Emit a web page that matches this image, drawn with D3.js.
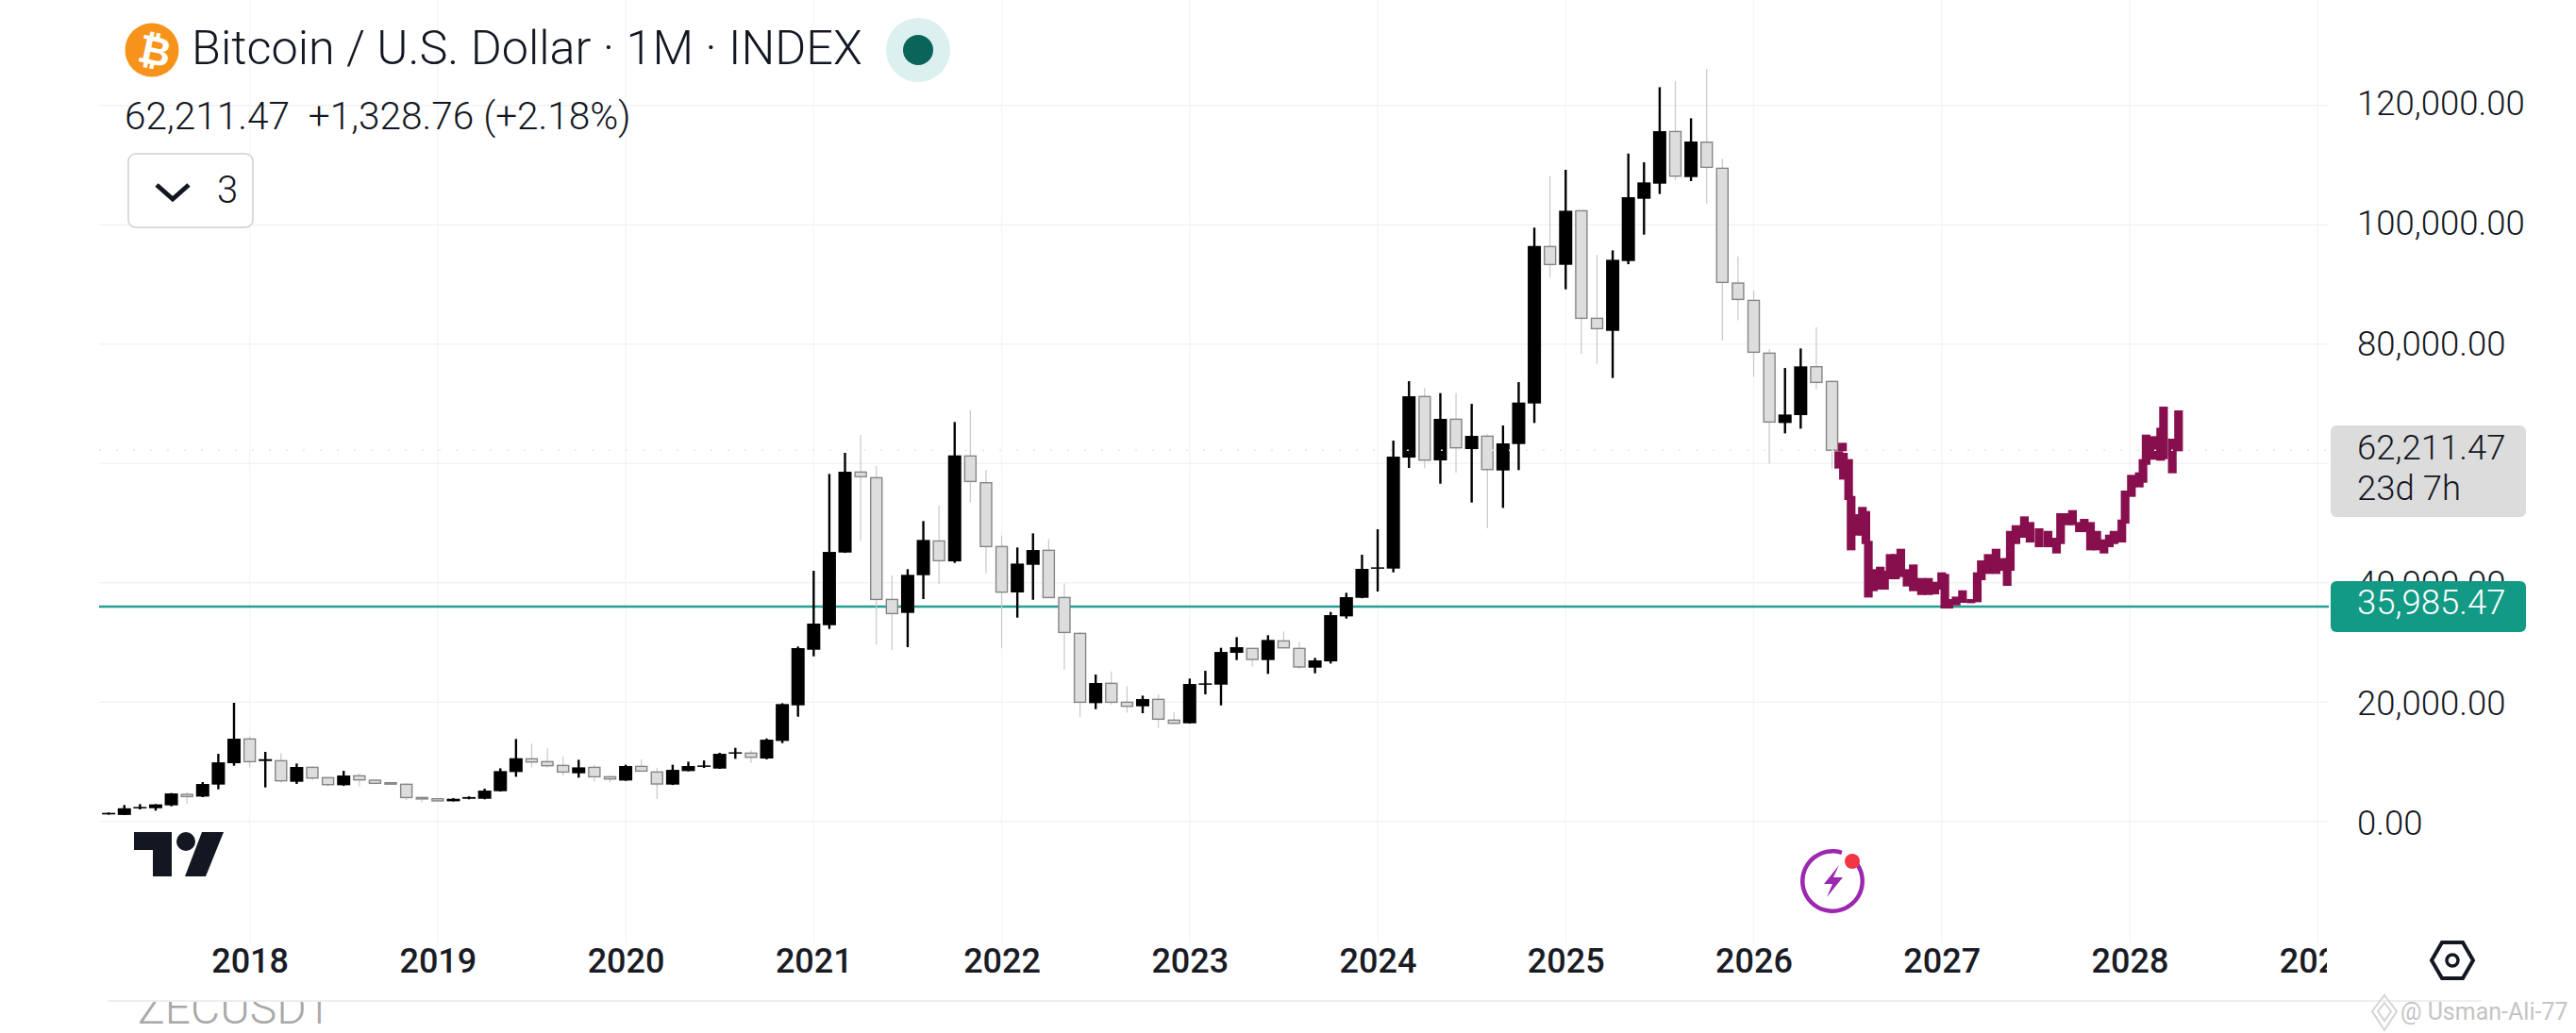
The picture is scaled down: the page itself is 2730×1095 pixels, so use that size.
<!DOCTYPE html>
<html>
<head>
<meta charset="utf-8">
<title>Bitcoin / U.S. Dollar</title>
<script src="https://d3js.org/d3.v7.min.js"></script>
<style>
    html, body { margin: 0; padding: 0; background: #fff; }
    svg { display: block; }
    text { font-family: Roboto, sans-serif; }
    .axis path, .axis line { display: none; }
</style>
</head>
<body>
<div id="chart"></div>
<script>
(function() {
    // months counted from Jan 2018, first candle is Apr 2017
    var firstMonth = -9;

    var candleOpen = [
        1170, 1080, 2210, 2210, 2690, 4530, 4160, 6170, 9750,
        13810, 10120, 10170, 6640, 9060, 7325, 6060, 7640, 6900, 6480, 6220, 4000,
        3790, 3370, 3790, 3790, 5060, 8270, 10490, 10010, 9380, 8060, 9060, 7480,
        6850, 9220, 8270, 6170, 8430, 9280, 8850, 11380, 11440, 10540, 13490, 19450,
        28770, 32880, 45060, 58550, 57600, 37200, 34940, 41260, 47000, 43580, 61240, 56760,
        46060, 38370, 43000, 45430, 37520, 31510, 19820, 23135, 19970, 19290, 20450, 16970,
        16440, 22980, 22920, 28250, 28990, 27040, 30250, 28990, 25770, 26820, 34360, 37470,
        42420, 42370, 60970, 71200, 60500, 67400, 62400, 64560, 58810, 63240, 70040, 96340,
        93280, 102340, 84320, 82210, 93910, 104350, 106880, 115620, 107980, 113830, 109460, 90220,
        87320, 78470, 66770, 68090, 76200, 73730
    ];
    var candleClose = [
        1430, 2200, 2420, 2850, 4690, 4160, 6270, 9900, 13860,
        10010, 10430, 6800, 9120, 7270, 6165, 7690, 6960, 6380, 6380, 4000, 3790,
        3440, 3790, 4080, 5160, 8430, 10590, 9960, 9330, 8270, 9060, 7480, 7110,
        9280, 8430, 6270, 8640, 9280, 9380, 11330, 11590, 10750, 13700, 19660, 29040,
        33150, 45160, 58600, 57760, 37200, 34830, 41320, 47170, 43690, 61340, 56970, 46060,
        38420, 43210, 45480, 37520, 31670, 19970, 23190, 19970, 19290, 20500, 17130, 16440,
        23030, 23135, 28400, 29200, 27140, 30410, 29090, 25880, 26980, 34570, 37580, 42320,
        42580, 61130, 71250, 60550, 67460, 62610, 64610, 58970, 63350, 70200, 96440, 93330,
        102340, 84320, 82580, 94120, 104610, 107090, 115680, 108140, 113940, 109620, 90330, 87480,
        78630, 66930, 68190, 76260, 73570, 62211
    ];
    var candleHigh = [
        1500, 2750, 2900, 2900, 4750, 4900, 6590, 11330, 19870,
        14300, 11650, 11440, 9700, 9300, 7500, 8480, 8000, 7100, 6600, 6400, 4200,
        3900, 3900, 4200, 5480, 8900, 13810, 13020, 12230, 10900, 10330, 9500, 7700,
        9500, 10380, 9000, 9500, 10010, 10220, 11500, 12330, 11900, 13900, 19800, 29300,
        42000, 58230, 61770, 64770, 59550, 41200, 42270, 50330, 52910, 66930, 68880, 58920,
        47900, 45900, 48270, 47320, 39890, 31800, 24610, 25140, 22660, 21080, 21290, 18290,
        23930, 25240, 29090, 30880, 28990, 31200, 31830, 30090, 27400, 35100, 38310, 44690,
        48960, 63820, 73780, 72680, 71780, 71780, 69980, 64900, 66350, 73620, 99500, 108140,
        109200, 102500, 94970, 95700, 111930, 110460, 123050, 124090, 117840, 126060, 111040, 94700,
        89000, 79150, 75990, 79260, 82840, 73900
    ];
    var candleLow = [
        1130, 1050, 2000, 1800, 2530, 2950, 4060, 5380, 9330,
        9000, 5690, 6500, 6270, 7000, 5800, 5950, 5900, 6300, 6200, 3600, 3200,
        3350, 3350, 3700, 3700, 5000, 7480, 9060, 9000, 7700, 7330, 6690, 6530,
        6800, 8400, 3790, 6100, 8400, 8960, 8800, 10490, 9800, 10400, 13120, 17550,
        27670, 32250, 45000, 47000, 29620, 28670, 29200, 37260, 39790, 43320, 53490, 41580,
        29090, 34150, 37150, 37500, 25400, 17500, 18810, 19600, 18230, 18130, 15650, 16300,
        16400, 21290, 19450, 27030, 25930, 24720, 29000, 25510, 24820, 26460, 33990, 37400,
        38520, 41740, 59230, 59180, 56600, 58440, 53440, 49120, 52540, 58870, 66770, 91120,
        89170, 78370, 76680, 74310, 93380, 98340, 105140, 107430, 107300, 103560, 80580, 84000,
        74500, 59970, 65030, 65820, 72410, 59130
    ];

    var projMonth = [
        101.43, 101.67, 101.73, 102.06, 102.22, 102.54, 102.94, 103.16, 103.32, 103.64, 104.08, 104.35,
        104.71, 105.05, 105.39, 105.79, 106.19, 106.71, 107.16, 107.56, 108.0, 108.2, 108.46, 108.92,
        109.33, 109.87, 110.27, 110.53, 110.97, 111.47, 111.88, 112.18, 112.38, 112.74, 113.28, 113.64,
        114.22, 114.79, 115.33, 115.59, 116.09, 116.35, 116.79, 117.1, 117.5, 117.9, 118.36, 118.7,
        119.0, 119.5, 119.71, 120.11, 120.61, 120.85, 121.05, 121.55, 121.98, 122.16, 122.72, 123.12
    ];
    var projLow = [
        59130, 62030, 57280, 53860, 45430, 47900, 47900, 46480, 37520, 38580, 38840, 38840,
        40580, 40580, 40950, 39370, 38580, 37940, 37940, 38050, 38840, 35680, 35680, 36200,
        36630, 36570, 36730, 40420, 41470, 41470, 42000, 39470, 42000, 46480, 47540, 46740,
        45950, 45950, 44900, 46480, 49640, 49640, 48480, 48480, 45430, 45430, 44900, 45950,
        46480, 46740, 49910, 54390, 55970, 56760, 59760, 60610, 60450, 60710, 58340, 62030
    ];
    var projHigh = [
        62030, 63450, 61770, 60710, 54540, 51490, 52700, 52010, 47010, 42270, 42690, 42000,
        44800, 44800, 45690, 42270, 43060, 40790, 40790, 40160, 41740, 41470, 37260, 37680,
        38730, 37260, 41740, 43740, 44800, 45690, 44110, 44110, 48690, 49640, 51120, 50170,
        49120, 48690, 47540, 51650, 51650, 52170, 50170, 50700, 50170, 48690, 47270, 48060,
        48690, 50590, 55440, 58080, 58500, 60710, 64820, 64560, 65980, 69510, 64140, 68880
    ];

    var priceTicks = [0, 20000, 40000, 60000, 80000, 100000, 120000];
    var yearTicks = [2018, 2019, 2020, 2021, 2022, 2023, 2024, 2025, 2026, 2027, 2028, 2029];

    var lastPrice = 62211.47;
    var linePrice = 35985.47;

    var titleText = "Bitcoin / U.S. Dollar \u00b7 1M \u00b7 INDEX";
    var quoteText = "62,211.47  +1,328.76 (+2.18%)";

    var width = 2730,
        height = 1095,
        plotLeft = 105,
        plotRight = 2468;

    var PRICEFORMAT = d3.format(",.2f");

    var xScale = d3.scaleLinear().domain([0, 120]).range([264.6, 2257]),
        yScale = d3.scaleLinear().domain([0, 120000]).range([870.7, 111.7]);

    var svg = d3.select("#chart")
        .append("svg")
        .attr("width", width)
        .attr("height", height);

    var defs = svg.append("defs");
    defs.append("clipPath").attr("id", "xClip")
        .append("rect").attr("x", 0).attr("y", 0).attr("width", 2466).attr("height", height);
    defs.append("clipPath").attr("id", "footClip")
        .append("rect").attr("x", 0).attr("y", 1062).attr("width", width).attr("height", 40);

    drawGrid();
    drawLevels();
    drawCandles();
    drawProjection();
    drawAxes();
    drawPriceTags();
    drawHeader();
    drawIcons();
    drawFooter();

    function drawGrid() {
        // vertical lines sit on the year ticks
        svg.append("g").selectAll("line")
            .data(yearTicks)
            .enter()
            .append("line")
            .attr("x1", function(d) { return xScale((d - 2018) * 12); })
            .attr("x2", function(d) { return xScale((d - 2018) * 12); })
            .attr("y1", 0)
            .attr("y2", 1000)
            .attr("stroke", "#f6f6f6")
            .attr("stroke-width", 1.5);

        svg.append("g").selectAll("line")
            .data(priceTicks)
            .enter()
            .append("line")
            .attr("x1", plotLeft)
            .attr("x2", plotRight)
            .attr("y1", function(d) { return yScale(d); })
            .attr("y2", function(d) { return yScale(d); })
            .attr("stroke", "#f3f3f3")
            .attr("stroke-width", 1.5);
    }

    function drawLevels() {
        svg.append("line")
            .attr("x1", plotLeft)
            .attr("x2", plotRight)
            .attr("y1", yScale(linePrice))
            .attr("y2", yScale(linePrice))
            .attr("stroke", "#24a195")
            .attr("stroke-width", 2.5);
    }

    function drawCandles() {
        var candles = candleOpen.map(function(d, i) {
            return {month: firstMonth + i, open: d, close: candleClose[i], high: candleHigh[i], low: candleLow[i]};
        });

        var candle = svg.append("g").selectAll("g")
            .data(candles)
            .enter()
            .append("g");

        candle.append("line")
            .attr("x1", function(d) { return xScale(d.month); })
            .attr("x2", function(d) { return xScale(d.month); })
            .attr("y1", function(d) { return yScale(d.high); })
            .attr("y2", function(d) { return yScale(d.low); })
            .attr("stroke", function(d) { return d.close >= d.open ? "#000" : "#c8c8c8"; })
            .attr("stroke-width", function(d) { return d.close >= d.open ? 2.4 : 1.2; });

        candle.append("rect")
            .attr("x", function(d) { return xScale(d.month) - (d.close >= d.open ? 7 : 6); })
            .attr("width", function(d) { return d.close >= d.open ? 14 : 12; })
            .attr("y", function(d) { return yScale(Math.max(d.open, d.close)); })
            .attr("height", function(d) { return Math.max(1.5, yScale(Math.min(d.open, d.close)) - yScale(Math.max(d.open, d.close))); })
            .attr("fill", function(d) { return d.close >= d.open ? "#000" : "#dddddd"; })
            .attr("stroke", function(d) { return d.close >= d.open ? "none" : "#858585"; })
            .attr("stroke-width", 1.4);
    }

    function drawProjection() {
        svg.append("g").selectAll("rect")
            .data(projMonth)
            .enter()
            .append("rect")
            .attr("x", function(d) { return xScale(d) - 4.6; })
            .attr("width", 9.2)
            .attr("y", function(d, i) { return yScale(projHigh[i]); })
            .attr("height", function(d, i) { return yScale(projLow[i]) - yScale(projHigh[i]); })
            .attr("fill", "#870f4e");

        // dots of the last price line run over the candles
        svg.append("line")
            .attr("x1", plotLeft)
            .attr("x2", plotRight)
            .attr("y1", yScale(lastPrice))
            .attr("y2", yScale(lastPrice))
            .attr("stroke", "#e8e8e8")
            .attr("stroke-width", 1.5)
            .attr("stroke-dasharray", "2,16");
    }

    function drawAxes() {
        var yAxis = d3.axisRight(yScale)
            .tickValues(priceTicks)
            .tickFormat(PRICEFORMAT)
            .tickSize(0);

        var yGroup = svg.append("g")
            .attr("class", "axis")
            .attr("transform", "translate(2498,0)")
            .call(yAxis);

        // label rows drift a little from the gridlines in the screenshot
        yGroup.selectAll("text")
            .attr("x", 0)
            .attr("dy", function(d) { return 10 + (120000 - d) / 30000; })
            .style("font-family", "Roboto, sans-serif")
            .style("font-size", "36.5px")
            .style("font-weight", 300)
            .attr("fill", "#131722");

        var xAxis = d3.axisBottom(xScale)
            .tickValues(yearTicks.map(function(d) { return (d - 2018) * 12; }))
            .tickFormat(function(d) { return 2018 + d / 12; })
            .tickSize(0);

        var xGroup = svg.append("g")
            .attr("class", "axis")
            .attr("clip-path", "url(#xClip)")
            .append("g")
            .attr("transform", "translate(0,1031)")
            .call(xAxis);

        xGroup.selectAll("text")
            .attr("y", 0)
            .attr("dy", 0)
            .style("font-family", "Roboto, sans-serif")
            .style("font-size", "36px")
            .style("font-weight", 500)
            .attr("fill", "#1a1c25");
    }

    function drawPriceTags() {
        svg.append("rect")
            .attr("x", 2470).attr("y", 451)
            .attr("width", 207).attr("height", 97)
            .attr("rx", 6)
            .attr("fill", "#dcdcdc");

        svg.append("text")
            .attr("x", 2498).attr("y", 487)
            .style("font-size", "36.5px").style("font-weight", 300)
            .attr("fill", "#131722")
            .text(PRICEFORMAT(lastPrice));

        svg.append("text")
            .attr("x", 2498).attr("y", 530)
            .style("font-size", "36.5px").style("font-weight", 300)
            .attr("fill", "#131722")
            .text("23d 7h");

        svg.append("rect")
            .attr("x", 2470).attr("y", 616)
            .attr("width", 207).attr("height", 54)
            .attr("rx", 6)
            .attr("fill", "#129a85");

        svg.append("text")
            .attr("x", 2498).attr("y", 651)
            .style("font-size", "36.5px").style("font-weight", 300)
            .attr("fill", "#fff")
            .text(PRICEFORMAT(linePrice));
    }

    function drawHeader() {
        svg.append("text")
            .attr("x", 203).attr("y", 68)
            .style("font-size", "50.4px").style("font-weight", 300)
            .attr("fill", "#131722")
            .text(titleText);

        svg.append("text")
            .attr("x", 132).attr("y", 137)
            .style("font-size", "40.6px").style("font-weight", 300)
            .style("white-space", "pre")
            .attr("xml:space", "preserve")
            .attr("fill", "#131722")
            .text(quoteText);

        // collapsed indicators button
        svg.append("rect")
            .attr("x", 136).attr("y", 163)
            .attr("width", 132).attr("height", 78)
            .attr("rx", 8)
            .attr("fill", "#fff")
            .attr("stroke", "#cfcfcf")
            .attr("stroke-width", 1.5);

        svg.append("path")
            .attr("d", "M166,196L183,211L200,196")
            .attr("fill", "none")
            .attr("stroke", "#131722")
            .attr("stroke-width", 5);

        svg.append("text")
            .attr("x", 230).attr("y", 215)
            .style("font-size", "40px").style("font-weight", 300)
            .attr("fill", "#131722")
            .text("3");
    }

    function drawIcons() {
        // bitcoin badge
        svg.append("circle")
            .attr("cx", 161).attr("cy", 53).attr("r", 28.5)
            .attr("fill", "#f7931a");
        svg.append("text")
            .attr("transform", "translate(161,68) rotate(12)")
            .attr("text-anchor", "middle")
            .style("font-family", "'DejaVu Sans', sans-serif")
            .style("font-size", "42px")
            .style("font-weight", 700)
            .attr("fill", "#fff")
            .text("\u20bf");

        // market status dot
        svg.append("circle")
            .attr("cx", 973).attr("cy", 53).attr("r", 34)
            .attr("fill", "#dcf0f0");
        svg.append("circle")
            .attr("cx", 973).attr("cy", 53).attr("r", 16)
            .attr("fill", "#0a6459");

        // tradingview mark
        svg.append("path")
            .attr("d", "M142,882H182V929H162V901H142Z")
            .attr("fill", "#131722");
        svg.append("circle")
            .attr("cx", 197).attr("cy", 892).attr("r", 10)
            .attr("fill", "#131722");
        svg.append("path")
            .attr("d", "M214,882H237L218,929H196Z")
            .attr("fill", "#131722");

        // bolt button with its alert dot
        svg.append("path")
            .attr("d", d3.arc()({innerRadius: 29.5, outerRadius: 34, startAngle: 0.75, endAngle: 6.6}))
            .attr("transform", "translate(1942,934)")
            .attr("fill", "#9c27b0");
        svg.append("path")
            .attr("d", "M1949,917L1933,937H1942L1936,951L1953,930H1943Z")
            .attr("fill", "#9c27b0");
        svg.append("circle")
            .attr("cx", 1963).attr("cy", 913).attr("r", 8)
            .attr("fill", "#f23645");

        // settings hexagon
        svg.append("path")
            .attr("d", "M2588,999H2610L2621,1018L2610,1037H2588L2577,1018Z")
            .attr("fill", "none")
            .attr("stroke", "#131722")
            .attr("stroke-width", 4);
        svg.append("circle")
            .attr("cx", 2599).attr("cy", 1018).attr("r", 6)
            .attr("fill", "none")
            .attr("stroke", "#131722")
            .attr("stroke-width", 3.5);
    }

    function drawFooter() {
        svg.append("line")
            .attr("x1", 115).attr("x2", 2630)
            .attr("y1", 1061).attr("y2", 1061)
            .attr("stroke", "#e8e8e8")
            .attr("stroke-width", 1.5);

        // ticker of the next post, cut by the crop
        svg.append("g")
            .attr("clip-path", "url(#footClip)")
            .append("text")
            .attr("x", 146).attr("y", 1085)
            .style("font-size", "48px").style("font-weight", 300)
            .attr("fill", "#a8a8a8")
            .text("ZECUSDT");

        svg.append("path")
            .attr("d", "M2527,1055L2540,1072L2527,1092L2514,1072Z M2527,1063L2534,1072L2527,1082L2520,1072Z")
            .attr("fill", "none")
            .attr("stroke", "#d4d4d4")
            .attr("stroke-width", 2);

        svg.append("text")
            .attr("x", 2544).attr("y", 1081)
            .style("font-size", "25px")
            .attr("fill", "#c4c4c4")
            .text("@ Usman-Ali-77");
    }
})();
</script>
</body>
</html>
